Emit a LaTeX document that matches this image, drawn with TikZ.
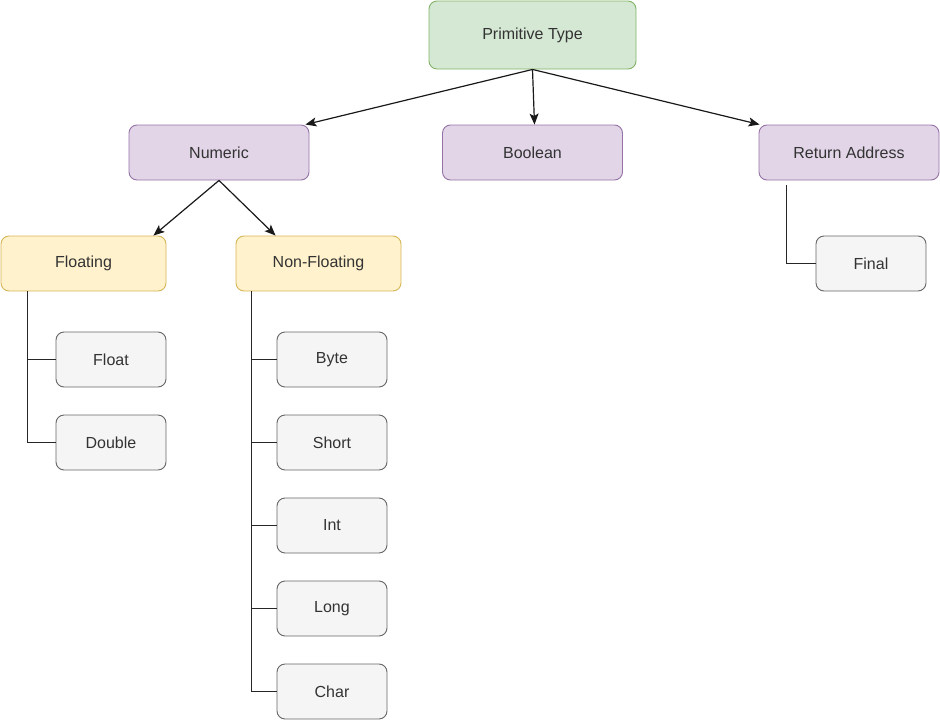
\documentclass[tikz,border=0pt]{standalone}
\usepackage{fontspec}
\setmainfont{Liberation Sans}
\usetikzlibrary{arrows.meta}

\definecolor{primfill}{HTML}{D5E8D4}
\definecolor{primline}{HTML}{82B366}
\definecolor{catfill}{HTML}{E1D5E7}
\definecolor{catline}{HTML}{9673A6}
\definecolor{subfill}{HTML}{FFF2CC}
\definecolor{subline}{HTML}{D6B656}
\definecolor{leaffill}{HTML}{F5F5F5}
\definecolor{leafline}{HTML}{666666}

\begin{document}
\begin{tikzpicture}[x=1pt, y=-1pt, font=\fontsize{16}{19}\selectfont,
    box/.style={draw, rounded corners=8pt, line width=0.9pt, inner sep=0pt,
        minimum height=55pt, text=black!80},
    primbox/.style={box, fill=primfill, draw=primline, minimum width=207pt, minimum height=68pt},
    catbox/.style={box, fill=catfill, draw=catline, minimum width=180pt},
    subbox/.style={box, fill=subfill, draw=subline, minimum width=165pt},
    leafbox/.style={box, fill=leaffill, draw=leafline, minimum width=110pt},
    arr/.style={-{Stealth[length=11pt, width=9pt, inset=2.5pt]}, line width=1.2pt, black!90},
    tree/.style={line width=1.2pt, black!85}]
    \useasboundingbox (0,0) rectangle (940,720);

    \node[primbox] (prim) at (532.5,35) {Primitive Type};

    \node[catbox] (num) at (219,152.5) {Numeric};
    \node[catbox] (bool) at (532.5,152.5) {Boolean};
    \node[catbox] (ret) at (849,152.5) {Return Address};

    \node[subbox] (flt) at (83.5,263.5) {Floating};
    \node[subbox] (nflt) at (318.5,263.5) {Non-Floating};
    \node[leafbox] (fin) at (871,263.5) {Final};

    \node[leafbox] (flo) at (111,359.5) {Float};
    \node[leafbox] (dbl) at (111,442.5) {Double};

    \node[leafbox] (byte) at (332,359.5) {Byte};
    \node[leafbox] (short) at (332,442.5) {Short};
    \node[leafbox] (int) at (332,525.5) {Int};
    \node[leafbox] (long) at (332,608.5) {Long};
    \node[leafbox] (char) at (332,691.5) {Char};

    \draw[arr] (prim.south) -- ([xshift=-4]num.north east);
    \draw[arr] (prim.south) -- ([xshift=2]bool.north);
    \draw[arr] (prim.south) -- ([xshift=1]ret.north west);
    \draw[arr] (num.south) -- ([xshift=-13]flt.north east);
    \draw[arr] (num.south) -- ([xshift=40]nflt.north west);

    \coordinate (fltbar) at ([xshift=27]flt.south west);
    \draw[tree] (fltbar) |- (dbl.west);
    \draw[tree] (fltbar |- flo.west) -- (flo.west);

    \coordinate (nfltbar) at ([xshift=16]nflt.south west);
    \draw[tree] (nfltbar) |- (char.west);
    \foreach \n in {byte, short, int, long}
        \draw[tree] (nfltbar |- \n.west) -- (\n.west);

    \coordinate (retbar) at ([xshift=28, yshift=-5]ret.south west);
    \draw[tree] (retbar) |- (fin.west);
\end{tikzpicture}
\end{document}
